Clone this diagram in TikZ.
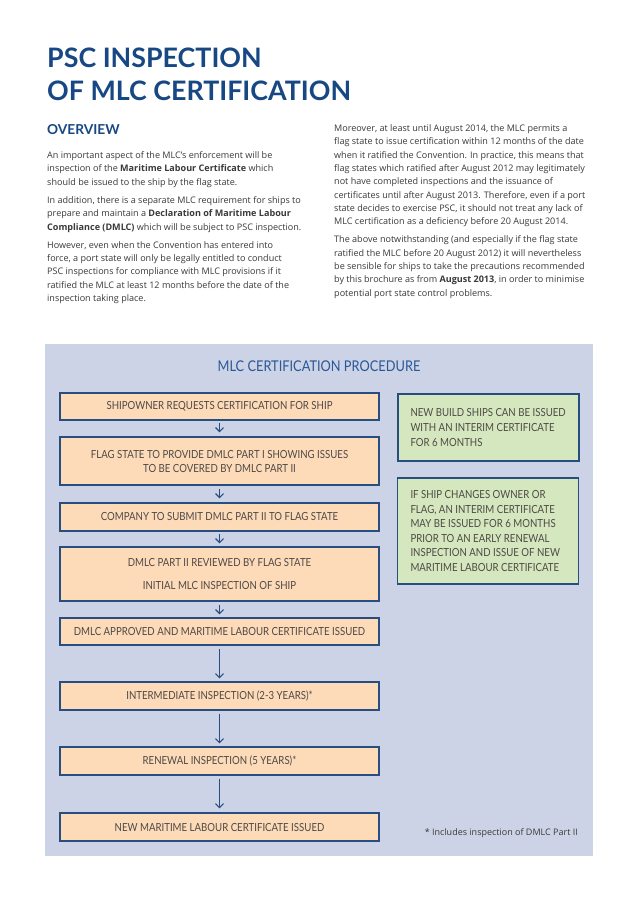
\documentclass[tikz,border=0pt]{standalone}
\usepackage{fontspec}
\setmainfont{Open Sans}
\newfontfamily\headfont{Lato}
\newfontfamily\boxfont[FakeStretch=0.865]{Lato}
\usetikzlibrary{arrows.meta}
\definecolor{titleblue}{RGB}{24,72,132}
\definecolor{panelbg}{RGB}{205,211,230}
\definecolor{peach}{RGB}{253,218,184}
\definecolor{greenbox}{RGB}{213,231,190}
\definecolor{edgeblue}{RGB}{38,78,128}
\definecolor{proctitle}{RGB}{42,88,150}
\definecolor{bodygrey}{RGB}{58,58,58}
\definecolor{boxtext}{RGB}{78,74,70}
\tikzset{
  flowbox/.style={draw=edgeblue, line width=1.4pt, fill=peach, minimum width=319pt,
    inner sep=0pt, align=center, text=boxtext, font=\boxfont\fontsize{11.15}{14}\selectfont},
  notebox/.style={draw=edgeblue, line width=1.4pt, fill=greenbox, minimum width=181pt,
    inner sep=0pt},
  notetext/.style={anchor=west, inner sep=0pt, align=left, text=boxtext,
    font=\boxfont\fontsize{11.15}{14.6}\selectfont},
  bodytext/.style={anchor=north west, inner sep=0pt, align=left, text=bodygrey,
    font=\fontsize{9.05}{13.3}\selectfont},
  flowarrow/.style={draw=edgeblue, line width=1.1pt, -{Straight Barb[length=4pt,width=8pt,line width=1.1pt]}},
}
\begin{document}
\begin{tikzpicture}[x=1pt,y=-1pt]
\useasboundingbox[fill=white] (0,0) rectangle (638,902);
% title
\node[anchor=base west, inner sep=0pt, text=titleblue, font=\headfont\bfseries\fontsize{26.8}{30}\selectfont] (t1) at (47,67) {PSC INSPECTION};
\node[anchor=base west, inner sep=0pt, text=titleblue, font=\headfont\bfseries\fontsize{26.8}{30}\selectfont] (t2) at (47,100) {OF MLC CERTIFICATION};
\node[anchor=base west, inner sep=0pt, text=titleblue, font=\headfont\bfseries\fontsize{13.7}{16}\selectfont] (ov) at (47,134) {OVERVIEW};
% left column
\node[bodytext] (lc) at (47,149) {\strut An important aspect of the MLC’s enforcement will be\\
inspection of the \textbf{Maritime Labour Certificate} which\\
should be issued to the ship by the flag state.\\[5pt]
In addition, there is a separate MLC requirement for ships to\\
prepare and maintain a \textbf{Declaration of Maritime Labour}\\
\textbf{Compliance (DMLC)} which will be subject to PSC inspection.\\[5pt]
However, even when the Convention has entered into\\
force, a port state will only be legally entitled to conduct\\
PSC inspections for compliance with MLC provisions if it\\
ratified the MLC at least 12 months before the date of the\\
inspection taking place.};
% right column
\node[bodytext] (rc) at (334,122) {\strut Moreover, at least until August 2014, the MLC permits a\\
flag state to issue certification within 12 months of the date\\
when it ratified the Convention. In practice, this means that\\
flag states which ratified after August 2012 may legitimately\\
not have completed inspections and the issuance of\\
certificates until after August 2013. Therefore, even if a port\\
state decides to exercise PSC, it should not treat any lack of\\
MLC certification as a deficiency before 20 August 2014.\\[5pt]
The above notwithstanding (and especially if the flag state\\
ratified the MLC before 20 August 2012) it will nevertheless\\
be sensible for ships to take the precautions recommended\\
by this brochure as from \textbf{August 2013}, in order to minimise\\
potential port state control problems.};
% panel
\fill[panelbg] (45,344) rectangle (593,856);
\node[text=proctitle, font=\boxfont\fontsize{14.8}{16}\selectfont, inner sep=0pt] (pt) at (319,366) {MLC CERTIFICATION PROCEDURE};
% flow boxes
\node[flowbox, minimum height=27pt] (b1) at (219.5,406.5) {SHIPOWNER REQUESTS CERTIFICATION FOR SHIP};
\node[flowbox, minimum height=48pt] (b2) at (219.5,461) {FLAG STATE TO PROVIDE DMLC PART I SHOWING ISSUES\\TO BE COVERED BY DMLC PART II};
\node[flowbox, minimum height=28pt] (b3) at (219.5,517) {COMPANY TO SUBMIT DMLC PART II TO FLAG STATE};
\node[flowbox, minimum height=54pt] (b4) at (219.5,574) {DMLC PART II REVIEWED BY FLAG STATE\\[9pt]INITIAL MLC INSPECTION OF SHIP};
\node[flowbox, minimum height=27pt] (b5) at (219.5,631.5) {DMLC APPROVED AND MARITIME LABOUR CERTIFICATE ISSUED};
\node[flowbox, minimum height=28pt] (b6) at (219.5,696) {INTERMEDIATE INSPECTION (2-3 YEARS)*};
\node[flowbox, minimum height=28pt] (b7) at (219.5,761) {RENEWAL INSPECTION (5 YEARS)*};
\node[flowbox, minimum height=28pt] (b8) at (219.5,827) {NEW MARITIME LABOUR CERTIFICATE ISSUED};
% notes
\node[notebox, minimum height=67pt] (n1) at (488.5,427.5) {};
\node[notetext] (n1t) at ([xshift=13pt]n1.west) {NEW BUILD SHIPS CAN BE ISSUED\\WITH AN INTERIM CERTIFICATE\\FOR 6 MONTHS};
\node[notebox, minimum height=106pt] (n2) at (488,531) {};
\node[notetext] (n2t) at ([xshift=13.5pt]n2.west) {IF SHIP CHANGES OWNER OR\\FLAG, AN INTERIM CERTIFICATE\\MAY BE ISSUED FOR 6 MONTHS\\PRIOR TO AN EARLY RENEWAL\\INSPECTION AND ISSUE OF NEW\\MARITIME LABOUR CERTIFICATE};
\node[anchor=east, inner sep=0pt, text=bodygrey, font=\fontsize{9}{12}\selectfont] (fn) at (578,833) {* Includes inspection of DMLC Part II};
% arrows
\draw[flowarrow] ([yshift=-2pt]b1.south) -- ([yshift=4pt]b2.north);
\draw[flowarrow] ([yshift=-3pt]b2.south) -- ([yshift=4pt]b3.north);
\draw[flowarrow] ([yshift=-2pt]b3.south) -- ([yshift=3pt]b4.north);
\draw[flowarrow] ([yshift=-3pt]b4.south) -- ([yshift=3pt]b5.north);
\draw[flowarrow] ([yshift=-3pt]b5.south) -- ([yshift=3pt]b6.north);
\draw[flowarrow] ([yshift=-3pt]b6.south) -- ([yshift=3pt]b7.north);
\draw[flowarrow] ([yshift=-3pt]b7.south) -- ([yshift=4pt]b8.north);
\end{tikzpicture}
\end{document}
